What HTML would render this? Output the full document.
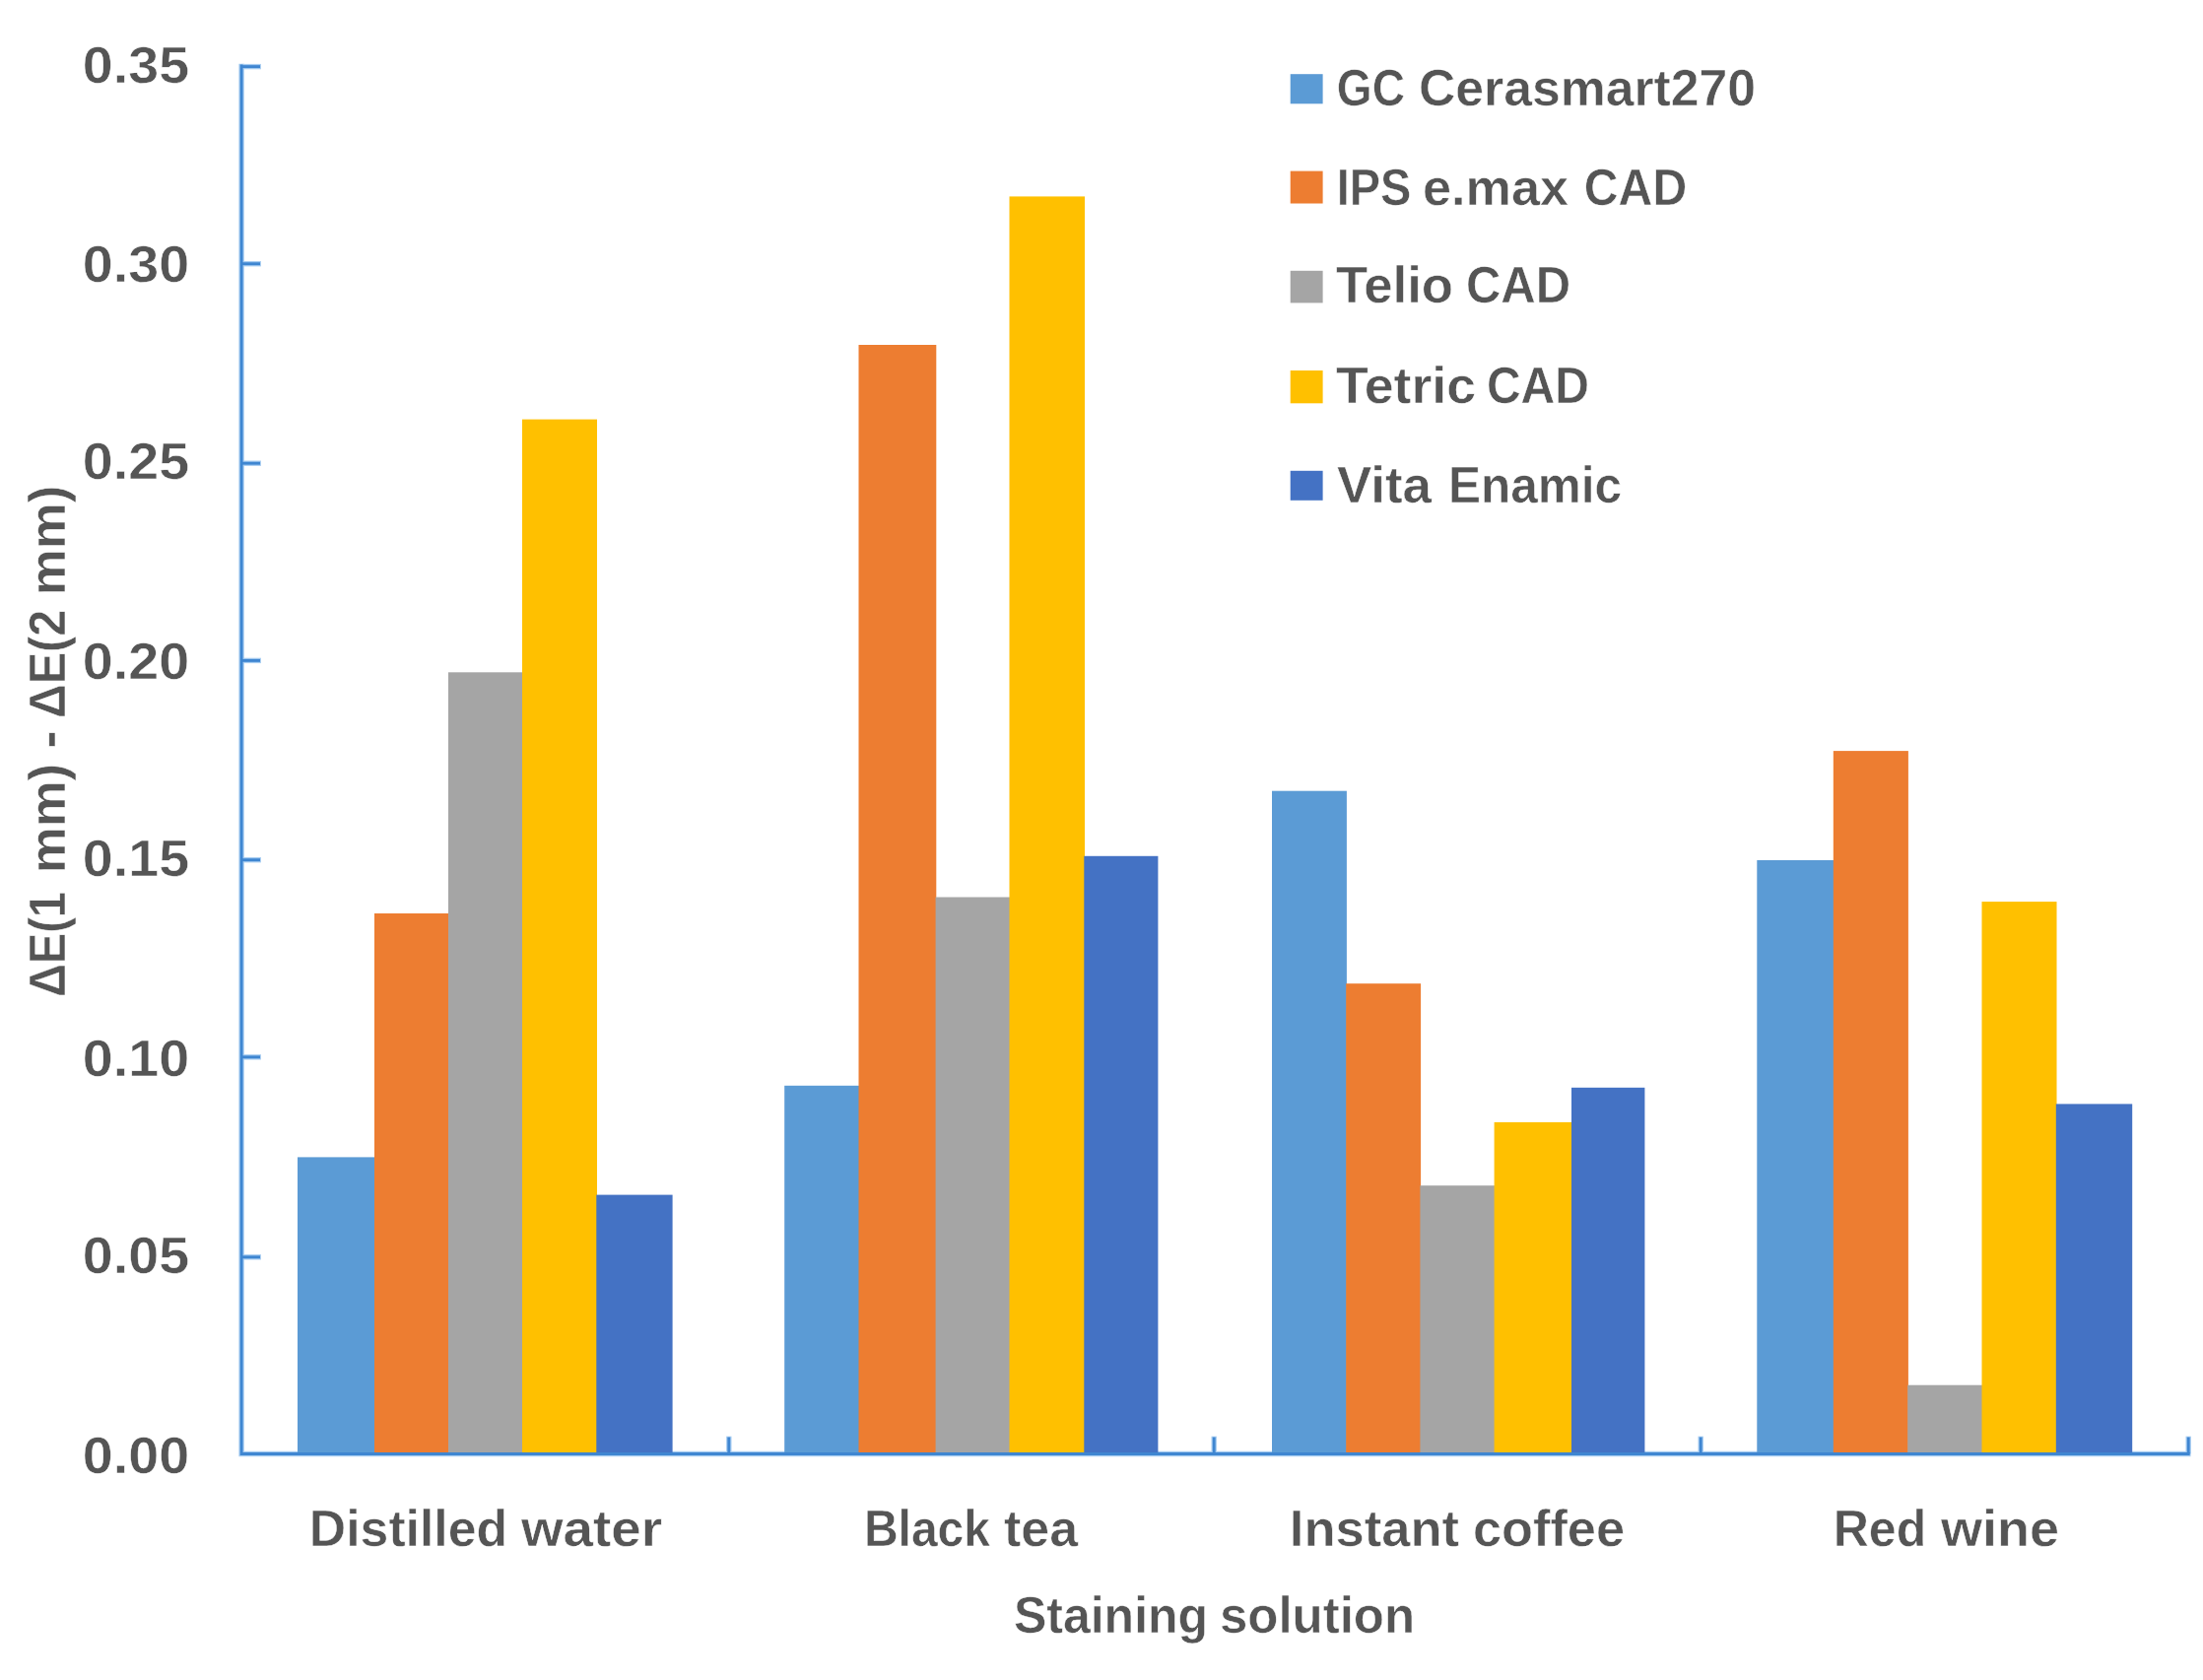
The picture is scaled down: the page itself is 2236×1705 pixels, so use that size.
<!DOCTYPE html>
<html><head><meta charset="utf-8"><title>Chart</title>
<style>
html,body{margin:0;padding:0;background:#fff;}
body{width:2236px;height:1705px;overflow:hidden;}
svg{display:block;}
text{font-family:"Liberation Sans",sans-serif;font-weight:bold;fill:#555555;font-size:52.5px;stroke:#ffffff;stroke-width:0.5px;}
</style></head><body>
<svg width="2236" height="1705" viewBox="0 0 2236 1705">
<rect x="0" y="0" width="2236" height="1705" fill="#ffffff"/>
<g stroke="#A6CCF1" stroke-width="5.4" fill="none">
<path d="M245.1 64.69999999999999 V1475.5 H2223.5"/>
<path d="M245.1 67.6 H264.9"/>
<path d="M245.1 267.7 H264.9"/>
<path d="M245.1 470.2 H264.9"/>
<path d="M245.1 670.4 H264.9"/>
<path d="M245.1 872.7 H264.9"/>
<path d="M245.1 1072.8 H264.9"/>
<path d="M245.1 1275.8 H264.9"/>
<path d="M739.8 1457.6999999999998 V1475.5"/>
<path d="M1232.2 1457.6999999999998 V1475.5"/>
<path d="M1726.2 1457.6999999999998 V1475.5"/>
<path d="M2221.2 1457.6999999999998 V1475.5"/>
</g>
<rect x="302" y="1174.4" width="78.7" height="301.2" fill="#5B9BD5"/>
<rect x="380" y="927" width="75.7" height="548.6" fill="#ED7D31"/>
<rect x="455" y="682.3" width="75.7" height="793.3" fill="#A5A5A5"/>
<rect x="530" y="425.6" width="76.0" height="1050.0" fill="#FFC000"/>
<rect x="605.3" y="1212.6" width="77.3" height="263.0" fill="#4472C4"/>
<rect x="796.2" y="1101.8" width="76.0" height="373.8" fill="#5B9BD5"/>
<rect x="871.5" y="350" width="78.8" height="1125.6" fill="#ED7D31"/>
<rect x="949.6" y="910.5" width="75.6" height="565.1" fill="#A5A5A5"/>
<rect x="1024.5" y="199.4" width="76.5" height="1276.2" fill="#FFC000"/>
<rect x="1100.3" y="868.8" width="75.1" height="606.8" fill="#4472C4"/>
<rect x="1291" y="802.7" width="75.9" height="672.9" fill="#5B9BD5"/>
<rect x="1366.2" y="998.2" width="75.9" height="477.4" fill="#ED7D31"/>
<rect x="1441.4" y="1203.2" width="75.9" height="272.4" fill="#A5A5A5"/>
<rect x="1516.6" y="1138.9" width="79.1" height="336.7" fill="#FFC000"/>
<rect x="1595" y="1103.8" width="74.4" height="371.8" fill="#4472C4"/>
<rect x="1783.3" y="873" width="78.2" height="602.6" fill="#5B9BD5"/>
<rect x="1860.8" y="762.1" width="76.1" height="713.5" fill="#ED7D31"/>
<rect x="1936.2" y="1405.7" width="76.0" height="69.9" fill="#A5A5A5"/>
<rect x="2011.5" y="915.1" width="76.0" height="560.5" fill="#FFC000"/>
<rect x="2086.8" y="1120.4" width="77.4" height="355.2" fill="#4472C4"/>
<g stroke="#3F86D1" stroke-width="2.9" fill="none">
<path d="M245.1 65.6 V1475.5 H2222.6"/>
<path d="M245.1 67.6 H264.0"/>
<path d="M245.1 267.7 H264.0"/>
<path d="M245.1 470.2 H264.0"/>
<path d="M245.1 670.4 H264.0"/>
<path d="M245.1 872.7 H264.0"/>
<path d="M245.1 1072.8 H264.0"/>
<path d="M245.1 1275.8 H264.0"/>
<path d="M739.8 1458.6 V1475.5"/>
<path d="M1232.2 1458.6 V1475.5"/>
<path d="M1726.2 1458.6 V1475.5"/>
<path d="M2221.2 1458.6 V1475.5"/>
</g>
<text y="83.6"><tspan x="83.88" textLength="108.21" lengthAdjust="spacingAndGlyphs">0.35</tspan></text>
<text y="286.3"><tspan x="83.87" textLength="108.27" lengthAdjust="spacingAndGlyphs">0.30</tspan></text>
<text y="486.3"><tspan x="83.88" textLength="108.21" lengthAdjust="spacingAndGlyphs">0.25</tspan></text>
<text y="688.6"><tspan x="83.87" textLength="108.27" lengthAdjust="spacingAndGlyphs">0.20</tspan></text>
<text y="889.0"><tspan x="83.88" textLength="108.21" lengthAdjust="spacingAndGlyphs">0.15</tspan></text>
<text y="1091.7"><tspan x="83.87" textLength="108.27" lengthAdjust="spacingAndGlyphs">0.10</tspan></text>
<text y="1291.7"><tspan x="83.88" textLength="108.21" lengthAdjust="spacingAndGlyphs">0.05</tspan></text>
<text y="1494.5"><tspan x="83.87" textLength="108.27" lengthAdjust="spacingAndGlyphs">0.00</tspan></text>
<text y="1569.3"><tspan x="313.86" textLength="201.27" lengthAdjust="spacingAndGlyphs">Distilled</tspan> <tspan x="528.99" textLength="143.04" lengthAdjust="spacingAndGlyphs">water</tspan></text>
<text y="1569.3"><tspan x="876.88" textLength="128.15" lengthAdjust="spacingAndGlyphs">Black</tspan> <tspan x="1018.99" textLength="75.03" lengthAdjust="spacingAndGlyphs">tea</tspan></text>
<text y="1569.3"><tspan x="1308.87" textLength="172.16" lengthAdjust="spacingAndGlyphs">Instant</tspan> <tspan x="1494.91" textLength="154.15" lengthAdjust="spacingAndGlyphs">coffee</tspan></text>
<text y="1569.3"><tspan x="1860.71" textLength="94.53" lengthAdjust="spacingAndGlyphs">Red</tspan> <tspan x="1969.98" textLength="120.09" lengthAdjust="spacingAndGlyphs">wine</tspan></text>
<text y="1656.8"><tspan x="1028.94" textLength="197.17" lengthAdjust="spacingAndGlyphs">Staining</tspan> <tspan x="1237.94" textLength="198.17" lengthAdjust="spacingAndGlyphs">solution</tspan></text>
<text y="106.8"><tspan x="1356.86" textLength="69.24" lengthAdjust="spacingAndGlyphs">GC</tspan> <tspan x="1439.96" textLength="342.08" lengthAdjust="spacingAndGlyphs">Cerasmart270</tspan></text>
<text y="208.3"><tspan x="1356.67" textLength="75.50" lengthAdjust="spacingAndGlyphs">IPS</tspan> <tspan x="1443.93" textLength="148.13" lengthAdjust="spacingAndGlyphs">e.max</tspan> <tspan x="1607.85" textLength="104.31" lengthAdjust="spacingAndGlyphs">CAD</tspan></text>
<text y="307.4"><tspan x="1355.97" textLength="119.09" lengthAdjust="spacingAndGlyphs">Telio</tspan> <tspan x="1487.88" textLength="106.22" lengthAdjust="spacingAndGlyphs">CAD</tspan></text>
<text y="408.9"><tspan x="1355.97" textLength="142.08" lengthAdjust="spacingAndGlyphs">Tetric</tspan> <tspan x="1508.89" textLength="104.22" lengthAdjust="spacingAndGlyphs">CAD</tspan></text>
<text y="509.6"><tspan x="1356.98" textLength="96.03" lengthAdjust="spacingAndGlyphs">Vita</tspan> <tspan x="1469.90" textLength="176.16" lengthAdjust="spacingAndGlyphs">Enamic</tspan></text>
<text transform="translate(65.8,0) rotate(-90)" y="0"><tspan x="-1012.06" textLength="107.11" lengthAdjust="spacingAndGlyphs">ΔE(1</tspan> <tspan x="-886.24" textLength="111.44" lengthAdjust="spacingAndGlyphs">mm)</tspan> <tspan x="-759.61" textLength="18.33" lengthAdjust="spacingAndGlyphs">-</tspan> <tspan x="-729.08" textLength="110.18" lengthAdjust="spacingAndGlyphs">ΔE(2</tspan> <tspan x="-604.28" textLength="111.51" lengthAdjust="spacingAndGlyphs">mm)</tspan></text>
<rect x="1309.7" y="75.2" width="32.9" height="30.1" fill="#5B9BD5"/>
<rect x="1309.7" y="173.6" width="32.9" height="32.9" fill="#ED7D31"/>
<rect x="1309.7" y="274.8" width="32.9" height="32.6" fill="#A5A5A5"/>
<rect x="1309.7" y="376" width="32.9" height="33.3" fill="#FFC000"/>
<rect x="1309.7" y="477.8" width="32.9" height="30.0" fill="#4472C4"/>
</svg></body></html>
